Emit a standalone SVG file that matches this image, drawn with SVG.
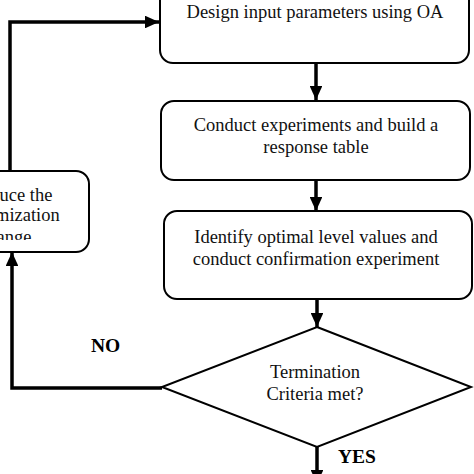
<svg xmlns="http://www.w3.org/2000/svg" width="474" height="474" viewBox="0 0 474 474">
<defs>
<style>
.box{fill:#fff;stroke:#000;stroke-width:2}
.t{font-family:"Liberation Serif","Times New Roman",serif;font-size:18.5px;fill:#111;text-anchor:middle}
.b{font-family:"Liberation Serif","Times New Roman",serif;font-size:19.5px;font-weight:bold;fill:#000}
.c{fill:none;stroke:#000;stroke-width:3.5}
</style>
<marker id="ah" viewBox="0 0 10 10" refX="10" refY="5" markerWidth="4" markerHeight="3.6" orient="auto" markerUnits="strokeWidth" preserveAspectRatio="none">
<path d="M0,0 L10,5 L0,10 Z" fill="#000"/>
</marker>
<clipPath id="clipL"><rect x="-100" y="160" width="200" height="80"/></clipPath>
</defs>
<rect width="474" height="474" fill="#fff"/>
<g id="connectors">
<line class="c" x1="316" y1="63" x2="316" y2="100" marker-end="url(#ah)"/>
<line class="c" x1="316" y1="180" x2="316" y2="211" marker-end="url(#ah)"/>
<line class="c" x1="317" y1="299" x2="317" y2="327" marker-end="url(#ah)"/>
<polyline class="c" points="162,388 12,388 12,252" marker-end="url(#ah)"/>
<polyline class="c" points="10,171 10,22 159,22" marker-end="url(#ah)"/>
<line class="c" x1="317" y1="447" x2="317" y2="484" marker-end="url(#ah)"/>
</g>
<g id="n1">
<rect class="box" x="160" y="-20" width="309" height="83" rx="13"/>
<text class="t" x="315" y="18">Design input parameters using OA</text>
</g>
<g id="n2">
<rect class="box" x="161" y="101" width="309" height="79" rx="13"/>
<text class="t" x="316" y="131">Conduct experiments and build a</text>
<text class="t" x="316" y="153">response table</text>
</g>
<g id="n3">
<rect class="box" x="164" y="211" width="308" height="88" rx="13"/>
<text class="t" x="316" y="243">Identify optimal level values and</text>
<text class="t" x="316" y="265">conduct confirmation experiment</text>
</g>
<g id="n4">
<polygon class="box" points="317,327 471,387 317,447 162,387"/>
<text class="t" x="315" y="378">Termination</text>
<text class="t" x="315" y="400">Criteria met?</text>
</g>
<g id="n5">
<rect class="box" x="-60" y="171" width="149" height="81" rx="13"/>
<g clip-path="url(#clipL)">
<text class="t" x="11" y="201">Reduce the</text>
<text class="t" x="13" y="221">optimization</text>
<text class="t" x="11" y="243">range</text>
</g>
</g>
<text class="b" x="91" y="352">NO</text>
<text class="b" x="338" y="463">YES</text>
</svg>
